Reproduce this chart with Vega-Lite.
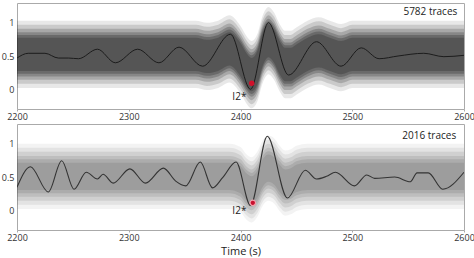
{
  "$schema": "https://vega.github.io/schema/vega-lite/v6.json",
  "padding": {"left": 0, "top": 2, "right": 0, "bottom": 0},
  "background": "white",
  "config": {
    "view": {"stroke": "#aaaaaa", "strokeWidth": 1},
    "font": "Open Sans",
    "axis": {"labelFont": "Open Sans", "labelFontSize": 9, "labelColor": "#333333", "grid": false, "domain": false, "tickColor": "#aaaaaa", "titleFont": "Open Sans", "titleFontWeight": "normal", "titleColor": "#222222", "labelOverlap": false, "labelFlush": false}
  },
  "datasets": {
    "top_bands": [
      {"t": 2200, "lo1": 0.03, "lo2": 0.09, "lo3": 0.15, "lo4": 0.2, "lo5": 0.24, "lo6": 0.28, "hi1": 1.02, "hi2": 0.96, "hi3": 0.9, "hi4": 0.85, "hi5": 0.81, "hi6": 0.77},
      {"t": 2360, "lo1": 0.03, "lo2": 0.09, "lo3": 0.15, "lo4": 0.2, "lo5": 0.24, "lo6": 0.28, "hi1": 1.02, "hi2": 0.96, "hi3": 0.9, "hi4": 0.85, "hi5": 0.81, "hi6": 0.77},
      {"t": 2370, "lo1": 0.0, "lo2": 0.06, "lo3": 0.12, "lo4": 0.17, "lo5": 0.21, "lo6": 0.25, "hi1": 0.99, "hi2": 0.93, "hi3": 0.87, "hi4": 0.82, "hi5": 0.78, "hi6": 0.74},
      {"t": 2380, "lo1": 0.03, "lo2": 0.09, "lo3": 0.15, "lo4": 0.2, "lo5": 0.24, "lo6": 0.28, "hi1": 1.02, "hi2": 0.96, "hi3": 0.9, "hi4": 0.85, "hi5": 0.81, "hi6": 0.77},
      {"t": 2390, "lo1": 0.11, "lo2": 0.17, "lo3": 0.23, "lo4": 0.28, "lo5": 0.32, "lo6": 0.36, "hi1": 1.1, "hi2": 1.04, "hi3": 0.98, "hi4": 0.93, "hi5": 0.89, "hi6": 0.85},
      {"t": 2400, "lo1": -0.05, "lo2": 0.01, "lo3": 0.07, "lo4": 0.12, "lo5": 0.16, "lo6": 0.2, "hi1": 0.94, "hi2": 0.88, "hi3": 0.82, "hi4": 0.77, "hi5": 0.73, "hi6": 0.69},
      {"t": 2405, "lo1": -0.19, "lo2": -0.13, "lo3": -0.07, "lo4": -0.02, "lo5": 0.02, "lo6": 0.06, "hi1": 0.8, "hi2": 0.74, "hi3": 0.68, "hi4": 0.63, "hi5": 0.59, "hi6": 0.55},
      {"t": 2410, "lo1": -0.27, "lo2": -0.21, "lo3": -0.15, "lo4": -0.1, "lo5": -0.06, "lo6": -0.02, "hi1": 0.72, "hi2": 0.66, "hi3": 0.6, "hi4": 0.55, "hi5": 0.51, "hi6": 0.47},
      {"t": 2415, "lo1": -0.17, "lo2": -0.11, "lo3": -0.05, "lo4": 0.0, "lo5": 0.04, "lo6": 0.08, "hi1": 0.82, "hi2": 0.76, "hi3": 0.7, "hi4": 0.65, "hi5": 0.61, "hi6": 0.57},
      {"t": 2420, "lo1": 0.11, "lo2": 0.17, "lo3": 0.23, "lo4": 0.28, "lo5": 0.32, "lo6": 0.36, "hi1": 1.1, "hi2": 1.04, "hi3": 0.98, "hi4": 0.93, "hi5": 0.89, "hi6": 0.85},
      {"t": 2425, "lo1": 0.23, "lo2": 0.29, "lo3": 0.35, "lo4": 0.4, "lo5": 0.44, "lo6": 0.48, "hi1": 1.22, "hi2": 1.16, "hi3": 1.1, "hi4": 1.05, "hi5": 1.01, "hi6": 0.97},
      {"t": 2430, "lo1": 0.15, "lo2": 0.21, "lo3": 0.27, "lo4": 0.32, "lo5": 0.36, "lo6": 0.4, "hi1": 1.14, "hi2": 1.08, "hi3": 1.02, "hi4": 0.97, "hi5": 0.93, "hi6": 0.89},
      {"t": 2435, "lo1": -0.02, "lo2": 0.04, "lo3": 0.1, "lo4": 0.15, "lo5": 0.19, "lo6": 0.23, "hi1": 0.97, "hi2": 0.91, "hi3": 0.85, "hi4": 0.8, "hi5": 0.76, "hi6": 0.72},
      {"t": 2440, "lo1": -0.12, "lo2": -0.06, "lo3": 0.0, "lo4": 0.05, "lo5": 0.09, "lo6": 0.13, "hi1": 0.87, "hi2": 0.81, "hi3": 0.75, "hi4": 0.7, "hi5": 0.66, "hi6": 0.62},
      {"t": 2445, "lo1": -0.12, "lo2": -0.06, "lo3": 0.0, "lo4": 0.05, "lo5": 0.09, "lo6": 0.13, "hi1": 0.87, "hi2": 0.81, "hi3": 0.75, "hi4": 0.7, "hi5": 0.66, "hi6": 0.62},
      {"t": 2450, "lo1": -0.07, "lo2": -0.01, "lo3": 0.05, "lo4": 0.1, "lo5": 0.14, "lo6": 0.18, "hi1": 0.92, "hi2": 0.86, "hi3": 0.8, "hi4": 0.75, "hi5": 0.71, "hi6": 0.67},
      {"t": 2460, "lo1": 0.03, "lo2": 0.09, "lo3": 0.15, "lo4": 0.2, "lo5": 0.24, "lo6": 0.28, "hi1": 1.02, "hi2": 0.96, "hi3": 0.9, "hi4": 0.85, "hi5": 0.81, "hi6": 0.77},
      {"t": 2470, "lo1": 0.08, "lo2": 0.14, "lo3": 0.2, "lo4": 0.25, "lo5": 0.29, "lo6": 0.33, "hi1": 1.07, "hi2": 1.01, "hi3": 0.95, "hi4": 0.9, "hi5": 0.86, "hi6": 0.82},
      {"t": 2480, "lo1": 0.03, "lo2": 0.09, "lo3": 0.15, "lo4": 0.2, "lo5": 0.24, "lo6": 0.28, "hi1": 1.02, "hi2": 0.96, "hi3": 0.9, "hi4": 0.85, "hi5": 0.81, "hi6": 0.77},
      {"t": 2490, "lo1": -0.02, "lo2": 0.04, "lo3": 0.1, "lo4": 0.15, "lo5": 0.19, "lo6": 0.23, "hi1": 0.97, "hi2": 0.91, "hi3": 0.85, "hi4": 0.8, "hi5": 0.76, "hi6": 0.72},
      {"t": 2500, "lo1": 0.03, "lo2": 0.09, "lo3": 0.15, "lo4": 0.2, "lo5": 0.24, "lo6": 0.28, "hi1": 1.02, "hi2": 0.96, "hi3": 0.9, "hi4": 0.85, "hi5": 0.81, "hi6": 0.77},
      {"t": 2600, "lo1": 0.03, "lo2": 0.09, "lo3": 0.15, "lo4": 0.2, "lo5": 0.24, "lo6": 0.28, "hi1": 1.02, "hi2": 0.96, "hi3": 0.9, "hi4": 0.85, "hi5": 0.81, "hi6": 0.77}
    ],
    "bottom_bands": [
      {"t": 2200, "lo1": 0.03, "lo2": 0.09, "lo3": 0.15, "lo4": 0.21, "lo5": 0.26, "lo6": 0.31, "hi1": 0.99, "hi2": 0.93, "hi3": 0.87, "hi4": 0.81, "hi5": 0.76, "hi6": 0.71},
      {"t": 2390, "lo1": 0.03, "lo2": 0.09, "lo3": 0.15, "lo4": 0.21, "lo5": 0.26, "lo6": 0.31, "hi1": 0.99, "hi2": 0.93, "hi3": 0.87, "hi4": 0.81, "hi5": 0.76, "hi6": 0.71},
      {"t": 2400, "lo1": -0.02, "lo2": 0.04, "lo3": 0.1, "lo4": 0.16, "lo5": 0.21, "lo6": 0.26, "hi1": 0.94, "hi2": 0.88, "hi3": 0.82, "hi4": 0.76, "hi5": 0.71, "hi6": 0.66},
      {"t": 2405, "lo1": -0.12, "lo2": -0.06, "lo3": 0.0, "lo4": 0.06, "lo5": 0.11, "lo6": 0.16, "hi1": 0.84, "hi2": 0.78, "hi3": 0.72, "hi4": 0.66, "hi5": 0.61, "hi6": 0.56},
      {"t": 2410, "lo1": -0.17, "lo2": -0.11, "lo3": -0.05, "lo4": 0.01, "lo5": 0.06, "lo6": 0.11, "hi1": 0.79, "hi2": 0.73, "hi3": 0.67, "hi4": 0.61, "hi5": 0.56, "hi6": 0.51},
      {"t": 2415, "lo1": -0.09, "lo2": -0.03, "lo3": 0.03, "lo4": 0.09, "lo5": 0.14, "lo6": 0.19, "hi1": 0.87, "hi2": 0.81, "hi3": 0.75, "hi4": 0.69, "hi5": 0.64, "hi6": 0.59},
      {"t": 2420, "lo1": 0.08, "lo2": 0.14, "lo3": 0.2, "lo4": 0.26, "lo5": 0.31, "lo6": 0.36, "hi1": 1.04, "hi2": 0.98, "hi3": 0.92, "hi4": 0.86, "hi5": 0.81, "hi6": 0.76},
      {"t": 2425, "lo1": 0.15, "lo2": 0.21, "lo3": 0.27, "lo4": 0.33, "lo5": 0.38, "lo6": 0.43, "hi1": 1.11, "hi2": 1.05, "hi3": 0.99, "hi4": 0.93, "hi5": 0.88, "hi6": 0.83},
      {"t": 2430, "lo1": 0.11, "lo2": 0.17, "lo3": 0.23, "lo4": 0.29, "lo5": 0.34, "lo6": 0.39, "hi1": 1.07, "hi2": 1.01, "hi3": 0.95, "hi4": 0.89, "hi5": 0.84, "hi6": 0.79},
      {"t": 2435, "lo1": 0.0, "lo2": 0.06, "lo3": 0.12, "lo4": 0.18, "lo5": 0.23, "lo6": 0.28, "hi1": 0.96, "hi2": 0.9, "hi3": 0.84, "hi4": 0.78, "hi5": 0.73, "hi6": 0.68},
      {"t": 2440, "lo1": -0.07, "lo2": -0.01, "lo3": 0.05, "lo4": 0.11, "lo5": 0.16, "lo6": 0.21, "hi1": 0.89, "hi2": 0.83, "hi3": 0.77, "hi4": 0.71, "hi5": 0.66, "hi6": 0.61},
      {"t": 2445, "lo1": -0.05, "lo2": 0.01, "lo3": 0.07, "lo4": 0.13, "lo5": 0.18, "lo6": 0.23, "hi1": 0.91, "hi2": 0.85, "hi3": 0.79, "hi4": 0.73, "hi5": 0.68, "hi6": 0.63},
      {"t": 2450, "lo1": 0.0, "lo2": 0.06, "lo3": 0.12, "lo4": 0.18, "lo5": 0.23, "lo6": 0.28, "hi1": 0.96, "hi2": 0.9, "hi3": 0.84, "hi4": 0.78, "hi5": 0.73, "hi6": 0.68},
      {"t": 2460, "lo1": 0.03, "lo2": 0.09, "lo3": 0.15, "lo4": 0.21, "lo5": 0.26, "lo6": 0.31, "hi1": 0.99, "hi2": 0.93, "hi3": 0.87, "hi4": 0.81, "hi5": 0.76, "hi6": 0.71},
      {"t": 2600, "lo1": 0.03, "lo2": 0.09, "lo3": 0.15, "lo4": 0.21, "lo5": 0.26, "lo6": 0.31, "hi1": 0.99, "hi2": 0.93, "hi3": 0.87, "hi4": 0.81, "hi5": 0.76, "hi6": 0.71}
    ],
    "top_mean": [
      {"t": 2200, "v": 0.47}, {"t": 2210, "v": 0.54}, {"t": 2225, "v": 0.54}, {"t": 2237, "v": 0.47},
      {"t": 2246, "v": 0.47}, {"t": 2255, "v": 0.46}, {"t": 2272, "v": 0.6}, {"t": 2288, "v": 0.4},
      {"t": 2308, "v": 0.6}, {"t": 2327, "v": 0.4}, {"t": 2345, "v": 0.63}, {"t": 2366, "v": 0.35},
      {"t": 2391, "v": 0.82}, {"t": 2409, "v": 0.01}, {"t": 2425, "v": 0.99}, {"t": 2443, "v": 0.22},
      {"t": 2468, "v": 0.71}, {"t": 2490, "v": 0.35}, {"t": 2508, "v": 0.62}, {"t": 2524, "v": 0.46},
      {"t": 2541, "v": 0.5}, {"t": 2564, "v": 0.54}, {"t": 2582, "v": 0.49}, {"t": 2600, "v": 0.51}
    ],
    "bottom_mean": [
      {"t": 2200, "v": 0.35}, {"t": 2212, "v": 0.65}, {"t": 2228, "v": 0.28}, {"t": 2240, "v": 0.74},
      {"t": 2251, "v": 0.32}, {"t": 2262, "v": 0.57}, {"t": 2272, "v": 0.47}, {"t": 2277, "v": 0.54},
      {"t": 2286, "v": 0.41}, {"t": 2301, "v": 0.62}, {"t": 2315, "v": 0.41}, {"t": 2331, "v": 0.63},
      {"t": 2342, "v": 0.44}, {"t": 2351, "v": 0.37}, {"t": 2364, "v": 0.72}, {"t": 2375, "v": 0.34},
      {"t": 2384, "v": 0.49}, {"t": 2396, "v": 0.72}, {"t": 2409, "v": 0.08}, {"t": 2424, "v": 1.1},
      {"t": 2442, "v": 0.19}, {"t": 2458, "v": 0.6}, {"t": 2468, "v": 0.47}, {"t": 2477, "v": 0.51},
      {"t": 2485, "v": 0.57}, {"t": 2502, "v": 0.37}, {"t": 2513, "v": 0.53}, {"t": 2520, "v": 0.48},
      {"t": 2538, "v": 0.5}, {"t": 2552, "v": 0.43}, {"t": 2558, "v": 0.56}, {"t": 2568, "v": 0.56},
      {"t": 2581, "v": 0.32}, {"t": 2600, "v": 0.57}
    ],
    "ann": [
      {"panel": "top", "kind": "dot", "t": 2410, "y": 0.1, "label": ""},
      {"panel": "top", "kind": "pick", "t": 2399, "y": -0.1, "label": "I2*"},
      {"panel": "top", "kind": "count", "t": 2594, "y": 1.15, "label": "5782 traces"},
      {"panel": "bottom", "kind": "dot", "t": 2411, "y": 0.12, "label": ""},
      {"panel": "bottom", "kind": "pick", "t": 2399, "y": 0.0, "label": "I2*"},
      {"panel": "bottom", "kind": "count", "t": 2593, "y": 1.1, "label": "2016 traces"}
    ]
  },
  "spacing": 15,
  "bounds": "flush",
  "vconcat": [
    {
      "width": 447,
      "height": 106,
      "encoding": {
        "x": {"field": "t", "type": "quantitative", "scale": {"domain": [2200, 2600], "nice": false, "zero": false}, "axis": {"values": [2200, 2300, 2400, 2500, 2600], "format": "d", "title": null, "tickSize": 2, "labelPadding": 1}}
      },
      "layer": [
        {"data": {"name": "top_bands"}, "mark": {"type": "area", "color": "#222222", "opacity": 0.1, "interpolate": "monotone", "clip": true},
         "encoding": {"y": {"field": "lo1", "type": "quantitative", "scale": {"domain": [-0.28, 1.28], "nice": false, "zero": false}, "axis": {"values": [0, 0.5, 1], "format": "~g", "title": null, "tickSize": 0, "labelPadding": 3}}, "y2": {"field": "hi1"}}},
        {"data": {"name": "top_bands"}, "mark": {"type": "area", "color": "#222222", "opacity": 0.15, "interpolate": "monotone", "clip": true},
         "encoding": {"y": {"field": "lo2", "type": "quantitative"}, "y2": {"field": "hi2"}}},
        {"data": {"name": "top_bands"}, "mark": {"type": "area", "color": "#222222", "opacity": 0.2, "interpolate": "monotone", "clip": true},
         "encoding": {"y": {"field": "lo3", "type": "quantitative"}, "y2": {"field": "hi3"}}},
        {"data": {"name": "top_bands"}, "mark": {"type": "area", "color": "#222222", "opacity": 0.24, "interpolate": "monotone", "clip": true},
         "encoding": {"y": {"field": "lo4", "type": "quantitative"}, "y2": {"field": "hi4"}}},
        {"data": {"name": "top_bands"}, "mark": {"type": "area", "color": "#222222", "opacity": 0.28, "interpolate": "monotone", "clip": true},
         "encoding": {"y": {"field": "lo5", "type": "quantitative"}, "y2": {"field": "hi5"}}},
        {"data": {"name": "top_bands"}, "mark": {"type": "area", "color": "#222222", "opacity": 0.28, "interpolate": "monotone", "clip": true},
         "encoding": {"y": {"field": "lo6", "type": "quantitative"}, "y2": {"field": "hi6"}}},
        {"data": {"name": "top_mean"}, "mark": {"type": "line", "color": "#1c1c1c", "strokeWidth": 1, "interpolate": "monotone", "clip": true},
         "encoding": {"y": {"field": "v", "type": "quantitative"}}},
        {"data": {"name": "ann"}, "transform": [{"filter": "datum.panel == 'top' && datum.kind == 'dot'"}],
         "mark": {"type": "point", "filled": true, "color": "#d0112b", "size": 30, "opacity": 1},
         "encoding": {"y": {"field": "y", "type": "quantitative"}}},
        {"data": {"name": "ann"}, "transform": [{"filter": "datum.panel == 'top' && datum.kind == 'pick'"}],
         "mark": {"type": "text", "font": "Open Sans", "fontSize": 10, "color": "#222222", "align": "center", "baseline": "middle"},
         "encoding": {"y": {"field": "y", "type": "quantitative"}, "text": {"field": "label"}}},
        {"data": {"name": "ann"}, "transform": [{"filter": "datum.panel == 'top' && datum.kind == 'count'"}],
         "mark": {"type": "text", "font": "Open Sans", "fontSize": 10, "color": "#222222", "align": "right", "baseline": "middle"},
         "encoding": {"y": {"field": "y", "type": "quantitative"}, "text": {"field": "label"}}}
      ]
    },
    {
      "width": 447,
      "height": 106,
      "encoding": {
        "x": {"field": "t", "type": "quantitative", "scale": {"domain": [2200, 2600], "nice": false, "zero": false}, "axis": {"values": [2200, 2300, 2400, 2500, 2600], "format": "d", "title": "Time (s)", "titleFontSize": 11, "titlePadding": 3, "tickSize": 2, "labelPadding": 1}}
      },
      "layer": [
        {"data": {"name": "bottom_bands"}, "mark": {"type": "area", "color": "#555555", "opacity": 0.07, "interpolate": "monotone", "clip": true},
         "encoding": {"y": {"field": "lo1", "type": "quantitative", "scale": {"domain": [-0.28, 1.28], "nice": false, "zero": false}, "axis": {"values": [0, 0.5, 1], "format": "~g", "title": null, "tickSize": 0, "labelPadding": 3}}, "y2": {"field": "hi1"}}},
        {"data": {"name": "bottom_bands"}, "mark": {"type": "area", "color": "#555555", "opacity": 0.1, "interpolate": "monotone", "clip": true},
         "encoding": {"y": {"field": "lo2", "type": "quantitative"}, "y2": {"field": "hi2"}}},
        {"data": {"name": "bottom_bands"}, "mark": {"type": "area", "color": "#555555", "opacity": 0.13, "interpolate": "monotone", "clip": true},
         "encoding": {"y": {"field": "lo3", "type": "quantitative"}, "y2": {"field": "hi3"}}},
        {"data": {"name": "bottom_bands"}, "mark": {"type": "area", "color": "#555555", "opacity": 0.15, "interpolate": "monotone", "clip": true},
         "encoding": {"y": {"field": "lo4", "type": "quantitative"}, "y2": {"field": "hi4"}}},
        {"data": {"name": "bottom_bands"}, "mark": {"type": "area", "color": "#555555", "opacity": 0.17, "interpolate": "monotone", "clip": true},
         "encoding": {"y": {"field": "lo5", "type": "quantitative"}, "y2": {"field": "hi5"}}},
        {"data": {"name": "bottom_bands"}, "mark": {"type": "area", "color": "#555555", "opacity": 0.17, "interpolate": "monotone", "clip": true},
         "encoding": {"y": {"field": "lo6", "type": "quantitative"}, "y2": {"field": "hi6"}}},
        {"data": {"name": "bottom_mean"}, "mark": {"type": "line", "color": "#333333", "strokeWidth": 1.1, "interpolate": "monotone", "clip": true},
         "encoding": {"y": {"field": "v", "type": "quantitative"}}},
        {"data": {"name": "ann"}, "transform": [{"filter": "datum.panel == 'bottom' && datum.kind == 'dot'"}],
         "mark": {"type": "point", "filled": true, "color": "#c8102e", "size": 30, "opacity": 1, "stroke": "#f2a3ad", "strokeWidth": 1.2},
         "encoding": {"y": {"field": "y", "type": "quantitative"}}},
        {"data": {"name": "ann"}, "transform": [{"filter": "datum.panel == 'bottom' && datum.kind == 'pick'"}],
         "mark": {"type": "text", "font": "Open Sans", "fontSize": 10, "color": "#222222", "align": "center", "baseline": "middle"},
         "encoding": {"y": {"field": "y", "type": "quantitative"}, "text": {"field": "label"}}},
        {"data": {"name": "ann"}, "transform": [{"filter": "datum.panel == 'bottom' && datum.kind == 'count'"}],
         "mark": {"type": "text", "font": "Open Sans", "fontSize": 10, "color": "#222222", "align": "right", "baseline": "middle"},
         "encoding": {"y": {"field": "y", "type": "quantitative"}, "text": {"field": "label"}}}
      ]
    }
  ]
}
